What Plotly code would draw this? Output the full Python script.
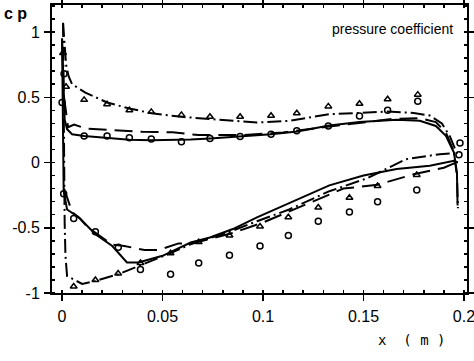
import plotly.graph_objects as go

# ---- data (x in m, Cp) ----
# computed curves, upper surface
up_solid_x = [0.0, 0.001, 0.0013, 0.0025, 0.005, 0.011, 0.0224, 0.0335, 0.0444, 0.059, 0.064, 0.0736, 0.0886, 0.104, 0.117, 0.133, 0.148, 0.1665, 0.178, 0.186, 0.191, 0.195, 0.1965, 0.1968]
up_solid_y = [0.95, 0.5, 0.33, 0.255, 0.217, 0.204, 0.19, 0.174, 0.171, 0.171, 0.176, 0.184, 0.2, 0.217, 0.238, 0.283, 0.31, 0.327, 0.32, 0.28, 0.204, 0.077, -0.077, -0.33]
up_dash_x = [0.001, 0.003, 0.006, 0.012, 0.024, 0.04, 0.055, 0.068, 0.09, 0.11, 0.13, 0.15, 0.165, 0.178, 0.186, 0.191, 0.195]
up_dash_y = [0.5, 0.27, 0.29, 0.26, 0.25, 0.235, 0.232, 0.21, 0.21, 0.23, 0.27, 0.31, 0.335, 0.34, 0.31, 0.23, 0.08]
up_dd_x = [0.0005, 0.002, 0.0033, 0.005, 0.0116, 0.0224, 0.0335, 0.0444, 0.0594, 0.08, 0.097, 0.113, 0.133, 0.148, 0.162, 0.175, 0.183, 0.189, 0.193, 0.197]
up_dd_y = [1.07, 0.75, 0.66, 0.6, 0.536, 0.46, 0.414, 0.378, 0.35, 0.324, 0.306, 0.319, 0.37, 0.38, 0.39, 0.38, 0.36, 0.3, 0.2, 0.05]
# computed curves, lower surface
lo_solid_x = [0.0, 0.0005, 0.0008, 0.0025, 0.0083, 0.0166, 0.025, 0.0323, 0.038, 0.05, 0.064, 0.0736, 0.085, 0.097, 0.113, 0.133, 0.15, 0.1665, 0.183, 0.195, 0.197]
lo_solid_y = [0.95, 0.0, -0.217, -0.36, -0.42, -0.55, -0.64, -0.766, -0.766, -0.715, -0.613, -0.575, -0.51, -0.42, -0.31, -0.175, -0.1, -0.05, -0.025, 0.013, 0.0]
lo_dash_x = [0.001, 0.005, 0.009, 0.013, 0.025, 0.031, 0.041, 0.048, 0.058, 0.064, 0.07, 0.085, 0.1, 0.12, 0.14, 0.157, 0.175, 0.19, 0.196]
lo_dash_y = [-0.2, -0.38, -0.43, -0.5, -0.63, -0.64, -0.67, -0.67, -0.62, -0.62, -0.6, -0.54, -0.46, -0.33, -0.2, -0.17, -0.09, -0.04, 0.0]
lo_dd_x = [0.0005, 0.001, 0.0013, 0.0017, 0.0025, 0.01, 0.0166, 0.028, 0.039, 0.054, 0.064, 0.0836, 0.097, 0.113, 0.133, 0.152, 0.171, 0.188, 0.195, 0.1965, 0.197]
lo_dd_y = [1.07, -0.2, -0.46, -0.715, -0.87, -0.93, -0.907, -0.856, -0.79, -0.695, -0.626, -0.53, -0.45, -0.36, -0.22, -0.12, 0.025, 0.064, 0.07, -0.1, -0.35]
# measured points
up_tri_x = [0.0005, 0.002, 0.011, 0.0224, 0.0335, 0.0444, 0.0594, 0.0736, 0.0886, 0.104, 0.1168, 0.1325, 0.148, 0.162, 0.177]
up_tri_y = [0.84, 0.58, 0.48, 0.447, 0.40, 0.388, 0.365, 0.35, 0.35, 0.358, 0.378, 0.43, 0.45, 0.485, 0.52]
up_cir_x = [0.001, 0.0, 0.011, 0.0224, 0.0335, 0.0444, 0.0594, 0.0736, 0.0886, 0.104, 0.1168, 0.1325, 0.148, 0.162, 0.177, 0.198, 0.1975]
up_cir_y = [0.68, 0.46, 0.204, 0.204, 0.19, 0.18, 0.16, 0.184, 0.2, 0.217, 0.243, 0.28, 0.357, 0.40, 0.47, 0.15, 0.06]
lo_tri_x = [0.0058, 0.0166, 0.0279, 0.039, 0.054, 0.068, 0.0833, 0.0985, 0.1126, 0.1275, 0.143, 0.157, 0.1765]
lo_tri_y = [-0.95, -0.90, -0.85, -0.77, -0.695, -0.61, -0.56, -0.49, -0.42, -0.345, -0.27, -0.18, -0.095]
lo_cir_x = [0.0008, 0.0058, 0.0166, 0.028, 0.039, 0.054, 0.068, 0.0833, 0.0985, 0.1126, 0.1275, 0.143, 0.157, 0.1765]
lo_cir_y = [-0.24, -0.43, -0.53, -0.65, -0.82, -0.856, -0.77, -0.71, -0.64, -0.56, -0.45, -0.38, -0.30, -0.21]

x_ticks = [0, 0.05, 0.1, 0.15, 0.2]
x_tick_text = ["0", "0.05", "0.1", "0.15", "0.2"]
y_ticks = [-1, -0.5, 0, 0.5, 1]
y_tick_text = ["-1", "-0.5", "0", "0.5", "1"]

FONT = "Liberation Sans Narrow, Liberation Sans, Arial"

fig = go.Figure()

def line(x, y, dash):
    fig.add_trace(go.Scatter(x=x, y=y, mode="lines",
                             line=dict(color="black", width=2, dash=dash),
                             showlegend=False, hoverinfo="skip"))

def pts(x, y, sym, size):
    fig.add_trace(go.Scatter(x=x, y=y, mode="markers",
                             marker=dict(symbol=sym, size=size, color="black",
                                         line=dict(color="black", width=1.5)),
                             showlegend=False, hoverinfo="skip"))

line(up_solid_x, up_solid_y, "solid")
line(up_dash_x, up_dash_y, "18px,8px")
line(up_dd_x, up_dd_y, "14px,4px,2px,4px")
line(lo_solid_x, lo_solid_y, "solid")
line(lo_dash_x, lo_dash_y, "18px,8px")
line(lo_dd_x, lo_dd_y, "14px,4px,2px,4px")
pts(up_tri_x, up_tri_y, "triangle-up-open", 6)
pts(up_cir_x, up_cir_y, "circle-open", 6)
pts(lo_tri_x, lo_tri_y, "triangle-up-open", 6)
pts(lo_cir_x, lo_cir_y, "circle-open", 6)

axis_common = dict(showline=True, linecolor="black", linewidth=2, mirror="allticks",
                   ticks="outside", ticklen=6, tickwidth=1.5, tickcolor="black",
                   showgrid=False, zeroline=False, automargin=False,
                   ticklabeloverflow="allow",
                   tickfont=dict(family=FONT, size=16, color="black"))

fig.update_layout(
    width=474, height=361,
    margin=dict(l=52, r=7, t=5, b=68),
    paper_bgcolor="white", plot_bgcolor="white",
    hovermode=False,
    xaxis=dict(range=[-0.005, 0.2015], tickvals=x_ticks, ticktext=x_tick_text,
               ticklabelstandoff=2,
               minor=dict(dtick=0.01, tick0=0, ticks="inside", ticklen=3, tickcolor="black", tickwidth=1.5),
               **axis_common),
    yaxis=dict(range=[-1, 1.207], tickvals=y_ticks, ticktext=y_tick_text,
               ticklabelstandoff=1,
               minor=dict(dtick=0.1, tick0=0, ticks="inside", ticklen=3, tickcolor="black", tickwidth=1.5),
               **axis_common),
    annotations=[
        dict(text="<b>c p</b>", xref="paper", yref="paper", x=-0.12, y=1.007,
             xanchor="left", yanchor="top", showarrow=False,
             font=dict(family=FONT, size=16, color="black")),
        dict(text="pressure coefficient", xref="paper", yref="paper", x=0.67, y=0.918,
             xanchor="left", yanchor="middle", showarrow=False,
             font=dict(family=FONT, size=14, color="black")),
        dict(text="x  ( m )", xref="paper", yref="paper", x=0.867, y=-0.163,
             xanchor="center", yanchor="middle", showarrow=False,
             font=dict(family="DejaVu Sans Mono", size=14, color="black")),
    ],
)

fig.write_html("out.html", config={"displayModeBar": False, "staticPlot": True},
               post_script="document.body.style.margin='0';document.body.style.overflow='hidden';")
